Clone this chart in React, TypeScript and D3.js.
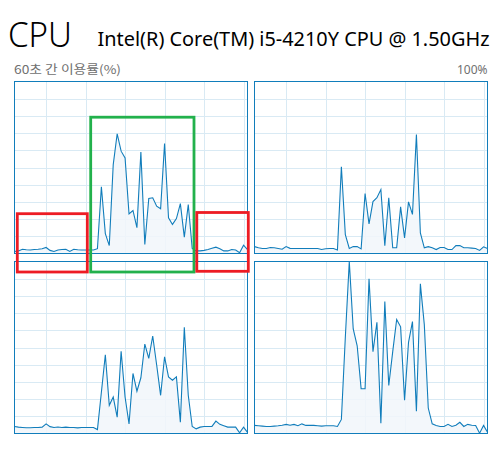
import React from "react";
import * as d3 from "d3";

// ---- data (CPU usage %, one sample per second, 60 seconds) ----
const core0 = [1.2, 1.5, 2.5, 2.2, 2, 2.3, 2.5, 2.8, 3.5, 1.8, 1.2, 2, 2.3, 2.5, 1.2, 2.5, 2.2, 2, 2, 2,
  2, 2.8, 38.8, 11.6, 4.6, 51.7, 69.6, 59.5, 55.6, 23, 25, 15, 59, 5.2, 32, 32.4, 27.5, 26, 64, 20.7,
  16.9, 20.3, 29, 9.5, 28.5, 2.9, 1.5, 1.5, 1.8, 2.3, 3, 3.7, 2.8, 1.5, 1.5, 2.3, 2, 0.4, 4.8, 2.3];
const core1 = [4, 3.3, 2.9, 2.9, 3.5, 3.3, 2.9, 2.5, 4, 3, 2.9, 2.9, 2.9, 2.9, 2.9, 2.9, 2.9, 2.3, 2.8, 2.9,
  2.9, 2.0, 50.4, 11, 2.9, 4, 4, 2.7, 34.9, 17.2, 30.2, 32.4, 37.2, 4.6, 32.4, 3.3, 3.3, 27.1, 9.1, 30,
  22.7, 69.2, 12, 3.3, 4, 3.3, 2.3, 3.5, 3.5, 2.3, 2.3, 4.6, 4.6, 3.3, 3.3, 3.1, 2.9, 1.8, 3.9, 2.9];
const core2 = [4.1, 3.7, 3.5, 3.3, 3.3, 3.5, 3.5, 3.7, 5.6, 4.0, 3.5, 3.8, 3.5, 3.7, 3.5, 3.5, 3.3, 3.5, 3.5, 3.5,
  3.5, 2.3, 24, 45.8, 16.4, 21.2, 9.5, 47.8, 21.2, 5.6, 34.9, 24.6, 32.4, 52, 43.7, 56.7, 39.8, 22.2, 44.6, 32.9,
  31, 32.9, 6.6, 61.8, 22.2, 4.1, 2.7, 3.7, 4.1, 4.1, 4.1, 7.2, 5.3, 4.5, 3.7, 3.7, 3.7, 0.4, 3.7, 0.7];
const core3 = [4.7, 4.5, 4.3, 4.1, 4.1, 4.3, 4.5, 4.8, 5.3, 4.8, 5.3, 4.5, 5.6, 4.7, 4.7, 4.7, 4.5, 4.3, 4.5, 4.5,
  4.5, 4.1, 8.2, 56, 100, 60.8, 51, 26, 26, 90, 47.6, 64.7, 6, 76.8, 27.9, 47.6, 66.3, 62, 19.3, 53,
  65.1, 13, 87, 63.3, 14.8, 5.6, 4.7, 4.1, 4.1, 5.3, 4.1, 4.8, 6.5, 4.1, 5.3, 4.8, 4.7, 0.2, 4.7, 0.7];
const cores = [core0, core1, core2, core3];

const gridTimes = [8.1, 18.1, 28.1, 38.1, 48.1, 58.1];
const gridValues = [10, 20, 30, 40, 50, 60, 70, 80, 90];

const titleText = "CPU";
const modelText = "Intel(R) Core(TM) i5-4210Y CPU @ 1.50GHz";
const axisLeftText = "60초 간 이용률(%)";
const axisRightText = "100%";

// ---- layout / style ----
const W = 503;
const H = 449;
const panelW = 233;
const panelH = 172;
const colX = [14.5, 254.5];
const rowY = [81.5, 261.5];
const BLUE = "#117dbb";
const GRID = "#d9eaf4";
const FILL = "#f1f6fa";
const RED = "#ed1c24";
const GREEN = "#22b14c";

const annotations = [
  { x0: 17.3, y0: 213.7, x1: 87.3, y1: 272, color: RED },
  { x0: 90.7, y0: 117.2, x1: 194, y1: 272, color: GREEN },
  { x0: 196.8, y0: 212.5, x1: 248.3, y1: 271.3, color: RED },
];

function Panel({ data, x0, y0, id }: { data: number[]; x0: number; y0: number; id: string }) {
  const x = d3.scaleLinear().domain([0, data.length - 1]).range([x0, x0 + panelW]);
  const y = d3.scaleLinear().domain([0, 100]).range([y0 + panelH, y0]);
  const line = d3.line<number>().x((_, i) => x(i)).y((d) => y(d));
  const area = d3.area<number>().x((_, i) => x(i)).y0(y(0)).y1((d) => y(d));
  return (
    <g>
      <defs>
        <clipPath id={id}>
          <rect x={x0} y={y0} width={panelW} height={panelH} />
        </clipPath>
      </defs>
      <rect x={x0} y={y0} width={panelW} height={panelH} fill="#fff" />
      <g clipPath={`url(#${id})`}>
        {gridValues.map((v) => (
          <line key={"h" + v} x1={x0} x2={x0 + panelW} y1={Math.round(y(v)) + 0.5} y2={Math.round(y(v)) + 0.5} stroke={GRID} strokeWidth={1} />
        ))}
        {gridTimes.map((t) => (
          <line key={"v" + t} y1={y0} y2={y0 + panelH} x1={Math.round(x(t)) + 0.5} x2={Math.round(x(t)) + 0.5} stroke={GRID} strokeWidth={1} />
        ))}
        <path d={area(data) || ""} fill={FILL} fillOpacity={0.85} />
        <path d={line(data) || ""} fill="none" stroke={BLUE} strokeWidth={1.1} strokeLinejoin="miter" />
      </g>
      <rect x={x0} y={y0} width={panelW} height={panelH} fill="none" stroke={BLUE} strokeWidth={1} />
    </g>
  );
}

export default function App() {
  return (
    <svg width={W} height={H} style={{ position: "absolute", left: 0, top: 0, background: "#fff" }}>
      <rect x={0} y={0} width={W} height={H} fill="#fff" />
      <text x={8} y={46.5} fontFamily="'Noto Sans', 'Open Sans', sans-serif" fontSize={35} fontWeight={300} fill="#000" textLength={64} lengthAdjust="spacingAndGlyphs">
        {titleText}
      </text>
      <text x={97.5} y={46} fontFamily="'Noto Sans', 'Open Sans', sans-serif" fontSize={19} fill="#000" textLength={392} lengthAdjust="spacingAndGlyphs">
        {modelText}
      </text>
      <text x={14} y={73.5} fontFamily="'Noto Sans CJK KR', 'Noto Sans', sans-serif" fontSize={12} fill="#707070" textLength={107} lengthAdjust="spacingAndGlyphs">
        {axisLeftText}
      </text>
      <text x={487.5} y={73.5} textAnchor="end" fontFamily="'Noto Sans', sans-serif" fontSize={12} fill="#707070">
        {axisRightText}
      </text>
      {cores.map((c, i) => (
        <Panel key={i} data={c} x0={colX[i % 2]} y0={rowY[Math.floor(i / 2)]} id={"clip" + i} />
      ))}
      {annotations.map((a, i) => (
        <rect key={i} x={a.x0} y={a.y0} width={a.x1 - a.x0} height={a.y1 - a.y0} fill="none" stroke={a.color} strokeWidth={2.8} />
      ))}
    </svg>
  );
}
